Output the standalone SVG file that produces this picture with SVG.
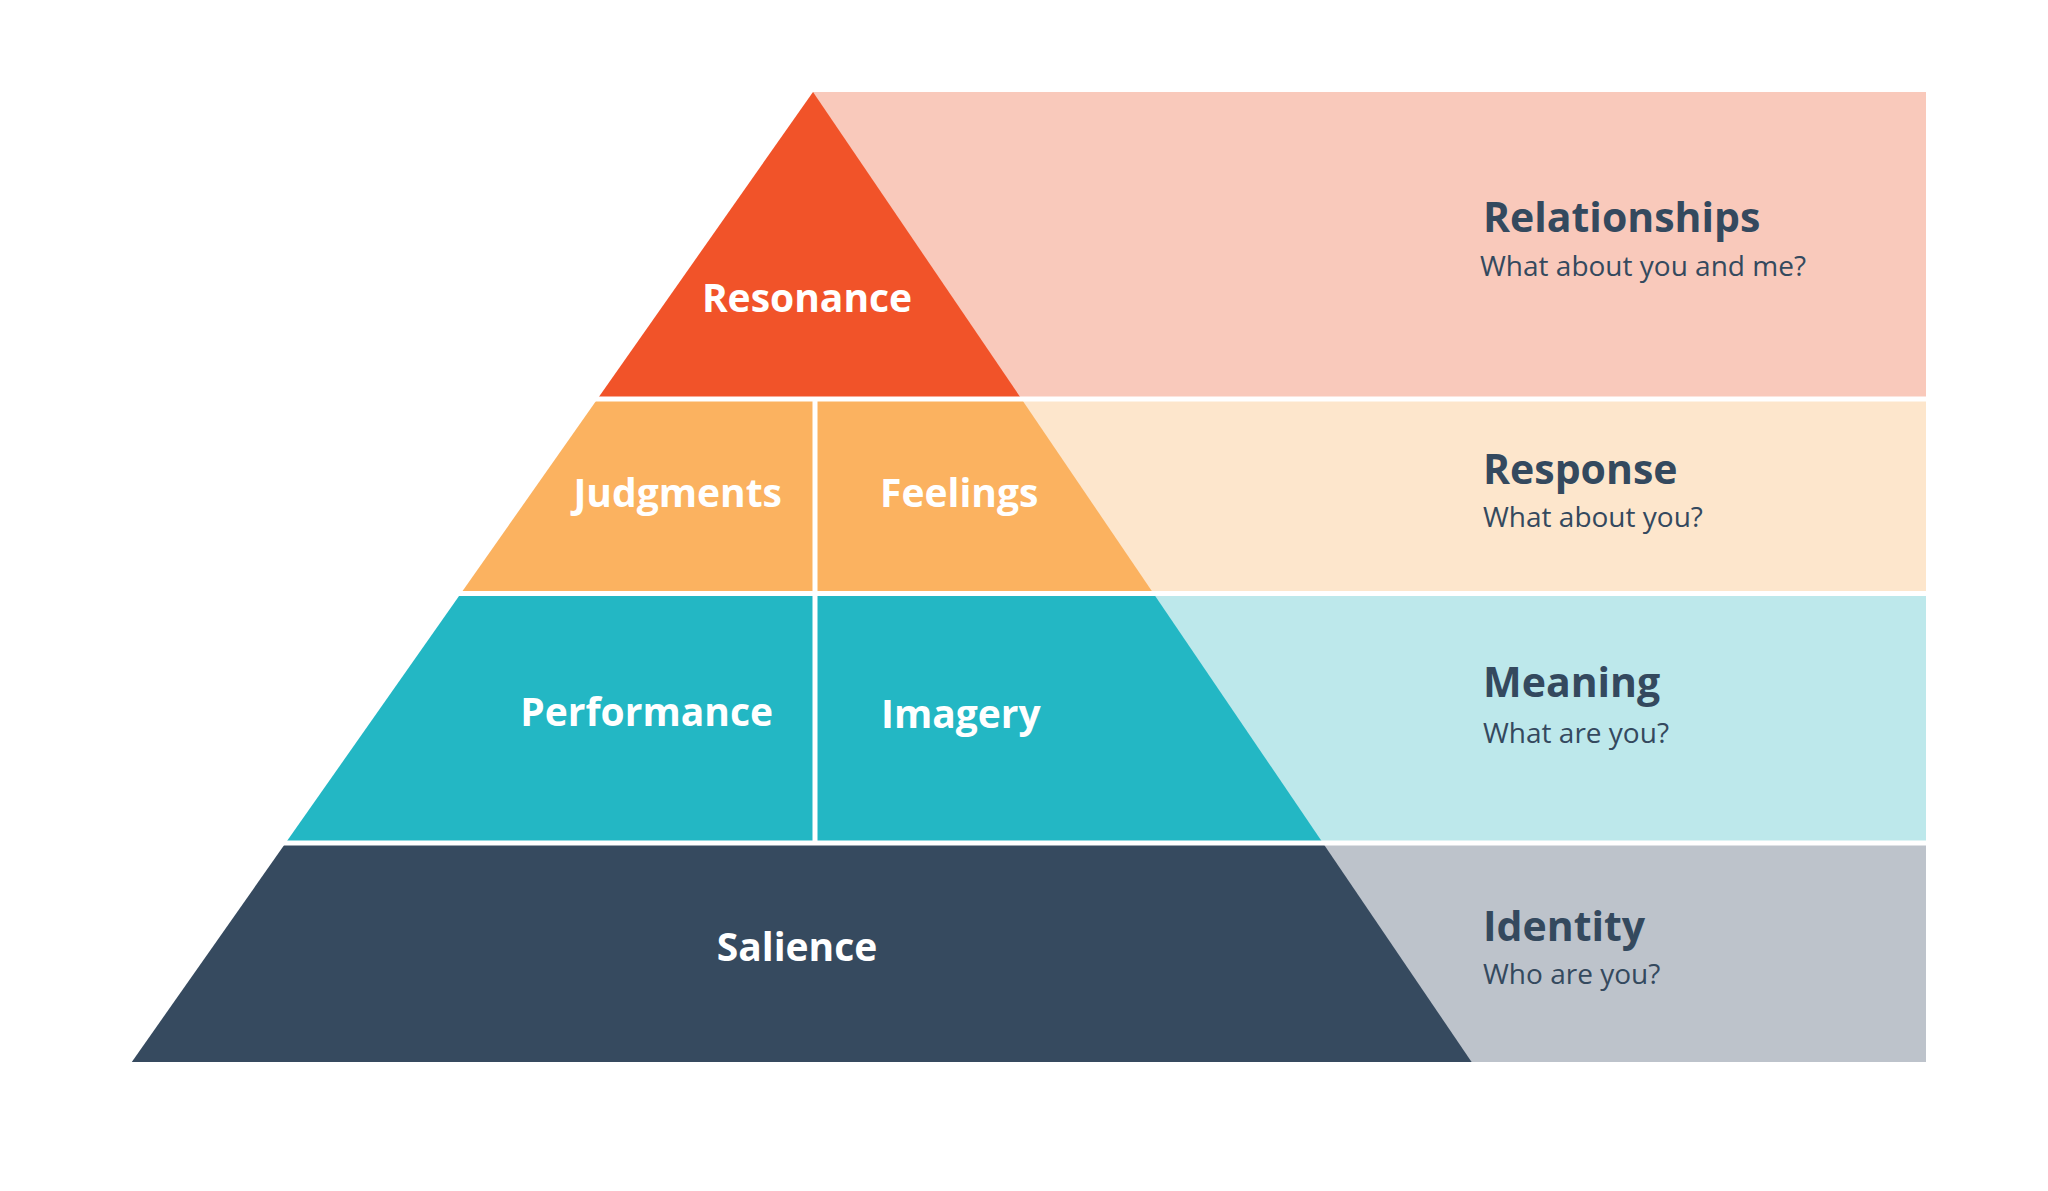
<svg xmlns="http://www.w3.org/2000/svg" width="2048" height="1191" viewBox="0 0 2048 1191">
<style>
.l{font-family:"Open Sans","Liberation Sans",sans-serif;font-weight:bold;font-size:39px;fill:#fff}
.t{font-family:"Open Sans","Liberation Sans",sans-serif;font-weight:bold;font-size:41px;fill:#34495E}
.s{font-family:"Open Sans","Liberation Sans",sans-serif;font-size:28px;fill:#34495E}
</style>
<rect width="2048" height="1191" fill="#fff"/>
<g id="panels">
<rect x="813" y="92" width="1113" height="307" fill="#F9C9BB"/>
<rect x="813" y="399" width="1113" height="194.5" fill="#FDE6CC"/>
<rect x="813" y="593.5" width="1113" height="249.5" fill="#BDE8EB"/>
<rect x="813" y="843" width="1113" height="219" fill="#BDC3CB"/>
</g>
<g id="resonance"><polygon points="813,92 1021.5,399 597.4,399" fill="#F15329"/><text class="l" x="807" y="312" text-anchor="middle">Resonance</text></g>
<g id="response"><polygon points="597.4,399 1021.5,399 1153.5,593.5 460.8,593.5" fill="#FBB260"/>
<text class="l" x="782" y="507" text-anchor="end">Judgments</text><text class="l" x="880" y="507">Feelings</text></g>
<g id="meaning"><polygon points="460.8,593.5 1153.5,593.5 1322.9,843 285.6,843" fill="#23B7C4"/>
<text class="l" x="773" y="726" text-anchor="end">Performance</text><text class="l" x="881" y="728">Imagery</text></g>
<g id="salience"><polygon points="285.6,843 1322.9,843 1471.6,1062 131.8,1062" fill="#364A5F"/>
<text class="l" x="797" y="961" text-anchor="middle">Salience</text></g>
<g id="dividers" stroke="#fff" stroke-width="5">
<line x1="100" y1="399" x2="1930" y2="399"/><line x1="100" y1="593.5" x2="1930" y2="593.5"/><line x1="100" y1="843" x2="1930" y2="843"/>
<line x1="815" y1="399" x2="815" y2="843"/>
</g>
<g id="labels">
<text class="t" x="1483" y="232">Relationships</text><text class="s" x="1480" y="276">What about you and me?</text>
<text class="t" x="1483" y="484">Response</text><text class="s" x="1483" y="527">What about you?</text>
<text class="t" x="1483" y="697">Meaning</text><text class="s" x="1483" y="743">What are you?</text>
<text class="t" x="1483" y="941">Identity</text><text class="s" x="1483" y="984">Who are you?</text>
</g>
</svg>
